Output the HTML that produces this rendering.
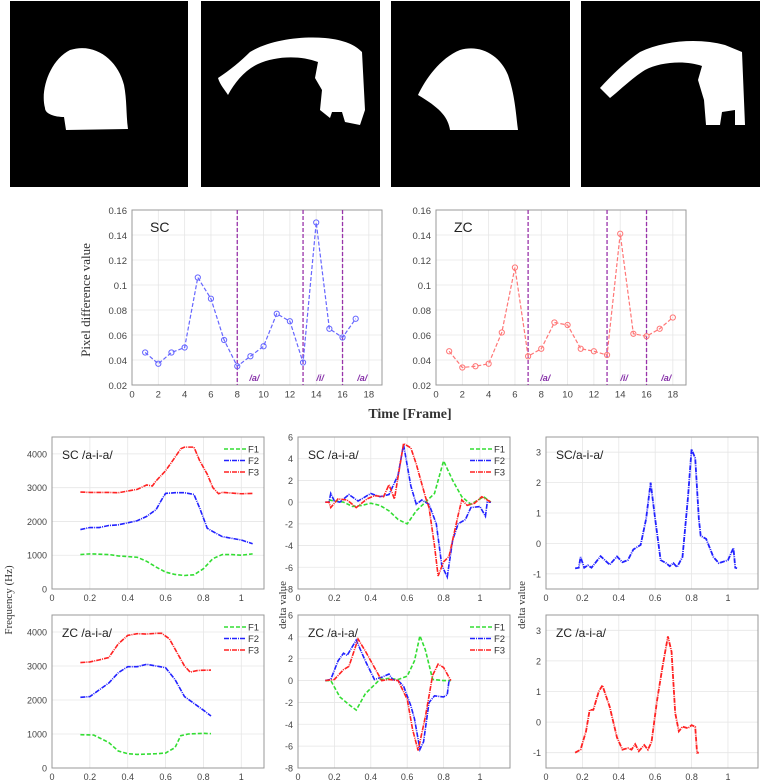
<!DOCTYPE html>
<html><head><meta charset="utf-8"><style>
body{margin:0;background:#fff;width:768px;height:783px;overflow:hidden;font-family:"Liberation Sans",sans-serif}
svg{position:absolute;left:0;top:0}
</style></head><body>
<svg id="s" width="768" height="783" xmlns="http://www.w3.org/2000/svg">
<g>
<rect x="10" y="1" width="178" height="186" fill="#000"/>
<path d="M45,108 C40,90 50,60 70,50 C95,42 118,60 124,85 C127,100 126,115 128,129 L66,130 L64,117 C55,117 45,114 45,108Z" fill="#fff"/>
<rect x="201" y="1" width="179" height="186" fill="#000"/>
<path d="M218,78 C230,70 240,62 250,52 C270,40 300,36 325,38 C345,40 355,45 362,52 L365,110 L360,125 L345,122 L342,112 L332,112 L330,118 L320,110 L322,90 L315,78 L318,62 C300,55 275,56 258,64 C245,70 235,82 228,95 C225,90 220,85 218,78Z" fill="#fff"/>
<rect x="391" y="1" width="179" height="186" fill="#000"/>
<path d="M418,95 C425,80 440,58 460,50 C480,44 500,55 508,75 C515,95 516,115 518,130 L450,130 C448,117 440,108 418,95Z" fill="#fff"/>
<rect x="581" y="1" width="179" height="186" fill="#000"/>
<path d="M600,88 C612,75 625,62 640,52 C665,40 700,38 725,45 L742,52 L745,125 L735,125 L735,110 L722,112 L720,125 L706,125 L704,100 L698,80 L702,66 C685,60 660,62 645,70 C632,78 620,90 610,98Z" fill="#fff"/>
</g>
<text x="410" y="418" font-family="Liberation Serif" font-size="14" font-weight="bold" text-anchor="middle" fill="#333">Time [Frame]</text>
<text transform="translate(90,300) rotate(-90)" font-family="Liberation Serif" font-size="13" text-anchor="middle" fill="#333">Pixel difference value</text>
<text transform="translate(12,600) rotate(-90)" font-family="Liberation Serif" font-size="11" text-anchor="middle" fill="#333">Frequency (Hz)</text>
<text transform="translate(286,605) rotate(-90)" font-family="Liberation Serif" font-size="11" text-anchor="middle" fill="#333">delta value</text>
<text transform="translate(525,605) rotate(-90)" font-family="Liberation Serif" font-size="11" text-anchor="middle" fill="#333">delta value</text>
</svg>
<script>
const frames=[1,2,3,4,5,6,7,8,9,10,11,12,13,14,15,16,17];
const scPix=[0.046,0.037,0.046,0.050,0.106,0.089,0.056,0.035,0.043,0.051,0.077,0.071,0.038,0.150,0.065,0.058,0.073];
const framesZ=[1,2,3,4,5,6,7,8,9,10,11,12,13,14,15,16,17,18];
const zcPix=[0.047,0.034,0.035,0.037,0.062,0.114,0.043,0.049,0.070,0.068,0.049,0.047,0.044,0.141,0.061,0.059,0.065,0.074];
const scBounds=[8,13,16]; const zcBounds=[7,13,16];
const pixXTicks=[0,2,4,6,8,10,12,14,16,18];
const pixYTicks=[0.02,0.04,0.06,0.08,0.1,0.12,0.14,0.16];

const scT=[0.15,0.2,0.25,0.3,0.35,0.4,0.45,0.5,0.53,0.55,0.6,0.65,0.68,0.7,0.75,0.78,0.82,0.85,0.88,0.9,0.95,1.0,1.06];
const scF3=[2870,2860,2860,2860,2850,2900,2950,3080,3050,3200,3500,3900,4150,4200,4200,3800,3400,3000,2820,2860,2840,2820,2830];
const scT2=[0.15,0.2,0.25,0.3,0.35,0.4,0.45,0.5,0.55,0.58,0.6,0.65,0.7,0.75,0.78,0.82,0.85,0.9,0.95,1.0,1.06];
const scF2=[1760,1820,1820,1880,1900,1960,2020,2150,2350,2650,2830,2850,2850,2800,2400,1800,1700,1550,1500,1450,1340];
const scT1=[0.15,0.2,0.3,0.35,0.4,0.45,0.5,0.55,0.6,0.65,0.7,0.75,0.8,0.85,0.9,0.95,1.0,1.06];
const scF1=[1020,1040,1020,980,960,940,820,650,500,430,400,420,600,900,1020,1020,1000,1040];
const zcT3=[0.15,0.2,0.25,0.3,0.35,0.4,0.45,0.5,0.55,0.58,0.62,0.65,0.7,0.73,0.77,0.84];
const zcF3=[3100,3120,3180,3250,3650,3900,3950,3940,3960,3960,3800,3500,3000,2820,2870,2880];
const zcT2=[0.15,0.2,0.25,0.3,0.35,0.4,0.45,0.5,0.55,0.6,0.65,0.7,0.75,0.8,0.84];
const zcF2=[2080,2100,2300,2500,2800,2980,2980,3050,3000,2950,2600,2100,1900,1700,1530];
const zcT1=[0.15,0.22,0.3,0.35,0.4,0.45,0.5,0.55,0.6,0.65,0.68,0.72,0.8,0.84];
const zcF1=[980,970,750,500,420,400,410,420,440,600,950,1000,1020,1010];

const sdT1=[0.17,0.2,0.25,0.3,0.35,0.4,0.45,0.5,0.55,0.6,0.65,0.7,0.75,0.8,0.85,0.9,0.95,1.0,1.02,1.06];
const sdF1=[0.2,0.1,0,-0.4,-0.3,-0.1,-0.3,-0.8,-1.6,-2,-0.8,0,0.8,3.8,2.0,0.5,-0.2,0.3,0.5,0];
const sdT2=[0.15,0.17,0.18,0.2,0.23,0.28,0.33,0.4,0.45,0.5,0.55,0.58,0.62,0.65,0.68,0.72,0.76,0.79,0.82,0.85,0.88,0.92,0.95,1.0,1.03,1.04,1.06];
const sdF2=[0,0,0.8,0.1,0,0.7,0.1,0.8,0.5,0.7,2.5,5.3,1.5,-0.2,0.2,-0.2,-2,-5.8,-6.9,-3.5,-2.0,-1.6,-0.5,-0.4,-1.3,0,0];
const sdT3=[0.15,0.17,0.18,0.22,0.27,0.32,0.38,0.42,0.47,0.5,0.53,0.58,0.62,0.65,0.7,0.72,0.75,0.77,0.8,0.83,0.88,0.9,0.93,0.97,1.01,1.06];
const sdF3=[0,0,-0.5,0.3,0.2,-0.5,0.3,0.6,0.5,1.6,0.3,5.4,5.0,3.5,0.5,-0.5,-4,-6.8,-5.5,-5,-1.2,0.2,-0.3,-0.1,0.5,0];
const zdT1=[0.15,0.18,0.23,0.28,0.32,0.37,0.45,0.5,0.55,0.6,0.64,0.67,0.7,0.74,0.8,0.84];
const zdF1=[0,0,-1.5,-2.2,-2.7,-1.2,0.1,0.2,0.1,0.4,1.8,4.1,2.8,0.1,0,0];
const zdT2=[0.15,0.18,0.22,0.25,0.27,0.32,0.37,0.42,0.46,0.5,0.52,0.55,0.58,0.62,0.64,0.67,0.69,0.72,0.75,0.8,0.82,0.83,0.84];
const zdF2=[0,0.1,1.8,2.5,2.3,3.7,1.8,0.1,0.3,0.6,0.1,0,-0.5,-2.3,-3.5,-6.3,-5.6,-2,-1.4,-1.5,-1.3,0,0];
const zdT3=[0.15,0.2,0.25,0.28,0.33,0.37,0.42,0.46,0.5,0.55,0.6,0.63,0.66,0.7,0.74,0.77,0.8,0.84];
const zdF3=[0,0.1,1,1.3,3.8,2.7,1.2,0,0.1,0,-1.7,-4.5,-6.4,-3.3,0.5,1.5,1.2,0];

const scRT=[0.16,0.18,0.19,0.21,0.23,0.25,0.3,0.35,0.39,0.42,0.45,0.48,0.52,0.55,0.575,0.6,0.63,0.66,0.68,0.7,0.72,0.75,0.78,0.8,0.82,0.84,0.85,0.88,0.92,0.95,1.0,1.03,1.04,1.05];
const scRV=[-0.82,-0.8,-0.45,-0.8,-0.72,-0.8,-0.42,-0.7,-0.43,-0.62,-0.55,-0.2,-0.05,0.8,2.0,0.8,-0.55,-0.65,-0.75,-0.65,-0.78,-0.45,1.5,3.1,2.8,0.8,0.25,0.15,-0.45,-0.65,-0.55,-0.15,-0.8,-0.82];
const zcRT=[0.16,0.19,0.22,0.24,0.26,0.29,0.31,0.35,0.39,0.42,0.45,0.47,0.49,0.51,0.54,0.56,0.58,0.61,0.64,0.67,0.69,0.71,0.73,0.75,0.78,0.8,0.82,0.83,0.84];
const zcRV=[-1.0,-0.9,-0.3,0.4,0.4,1.0,1.2,0.5,-0.5,-0.9,-0.85,-0.9,-0.72,-0.95,-0.75,-0.9,-0.65,0.7,1.8,2.8,2.3,0.3,-0.3,-0.15,-0.2,-0.1,-0.15,-1.0,-1.0];

const sTicks=[0,0.2,0.4,0.6,0.8,1];
const freqY=[0,1000,2000,3000,4000];
const deltaY=[-8,-6,-4,-2,0,2,4,6];
const rY=[-1,0,1,2,3];

const NS='http://www.w3.org/2000/svg';
const svg=document.getElementById('s');
function el(t,a,p){const e=document.createElementNS(NS,t);for(const k in a)e.setAttribute(k,a[k]);(p||svg).appendChild(e);return e;}

function makeAxes(c){
  const g=el('g',{});
  
  
  const sx=v=>c.x0+(v-c.xmin)/(c.xmax-c.xmin)*(c.x1-c.x0);
  const sy=v=>c.y1-(v-c.ymin)/(c.ymax-c.ymin)*(c.y1-c.y0);
  el('rect',{x:c.x0,y:c.y0,width:c.x1-c.x0,height:c.y1-c.y0,fill:'#fff'},g);
  c.xt.forEach(t=>{el('line',{x1:sx(t),x2:sx(t),y1:c.y0,y2:c.y1,stroke:'#e6e6e6','stroke-width':0.8},g);
    const tx=el('text',{x:sx(t),y:c.y1+c.fs+3,'font-size':c.fs,'text-anchor':'middle',fill:'#444'},g);tx.textContent=t;
    
    });
  c.yt.forEach(t=>{el('line',{x1:c.x0,x2:c.x1,y1:sy(t),y2:sy(t),stroke:'#e6e6e6','stroke-width':0.8},g);
    const tx=el('text',{x:c.x0-5,y:sy(t)+c.fs/2-1,'font-size':c.fs,'text-anchor':'end',fill:'#444'},g);tx.textContent=t;
    
    });
  el('rect',{x:c.x0,y:c.y0,width:c.x1-c.x0,height:c.y1-c.y0,fill:'none',stroke:'#999','stroke-width':1},g);
  return {g,sx,sy};
}
function series(ax,xs,ys,color,dash,name,w){
  const p=el('polyline',{points:xs.map((x,i)=>ax.sx(x)+','+ax.sy(ys[i])).join(' '),fill:'none',stroke:color,'stroke-width':w||1.6,'stroke-dasharray':dash},ax.g);
  
  
  return p;
}
function label(ax,x,y,txt,fs,name){const t=el('text',{x,y,'font-size':fs,fill:'#222'},ax.g);t.textContent=txt;
  
  }
function legend(ax,x,y){
  [['F1','#33dd33','4,2'],['F2','#2222ff','5,1,1,1'],['F3','#ff2222','5,1,1,1']].forEach((l,i)=>{
    const lg=el('g',{},ax.g);
    
    
    el('line',{x1:x,x2:x+22,y1:y+i*11.5,y2:y+i*11.5,stroke:l[1],'stroke-width':1.6,'stroke-dasharray':l[2]},lg);
    const t=el('text',{x:x+24,y:y+i*11.5+3.5,'font-size':9.5,fill:'#333'},lg);t.textContent=l[0];
  });
}

// pixel charts
[[132,382,'SC',frames,scPix,scBounds,'#6666ff','pixel-chart-sc'],[436,686,'ZC',framesZ,zcPix,zcBounds,'#ff7777','pixel-chart-zc']].forEach(d=>{
  const ax=makeAxes({name:d[7],x0:d[0],x1:d[1],y0:210,y1:385,xmin:0,xmax:19,ymin:0.02,ymax:0.16,xt:pixXTicks,yt:pixYTicks,fs:9.5});
  d[5].forEach(b=>{const l=el('line',{x1:ax.sx(b),x2:ax.sx(b),y1:210,y2:385,stroke:'#9933aa','stroke-width':1.3,'stroke-dasharray':'4,2'},ax.g);
    
    });
  series(ax,d[3],d[4],d[6],'4,2',d[2].toLowerCase()+'-pixel-line',1.2);
  d[3].forEach((f,i)=>{const c=el('circle',{cx:ax.sx(f),cy:ax.sy(d[4][i]),r:2.6,fill:'none',stroke:d[6],'stroke-width':1},ax.g);
    
    });
  const labs=['/a/','/i/','/a/'];
  const lx=[(d[5][0]+1.3),(d[5][1]+1.3),(d[5][2]+1.5)];
  lx.forEach((x,i)=>{const t=el('text',{x:ax.sx(x),y:381,'font-size':9,'font-weight':'bold','font-style':'italic',fill:'#8833aa','text-anchor':'middle'},ax.g);t.textContent=labs[i];
    
    });
  label(ax,d[0]+18,232,d[2],14,'panel-title');
});

// formant charts
const fcfg=[
 ['formant-chart-sc',437,589,'SC /a-i-a/',[scT1,scF1],[scT2,scF2],[scT,scF3]],
 ['formant-chart-zc',615,768,'ZC /a-i-a/',[zcT1,zcF1],[zcT2,zcF2],[zcT3,zcF3]]];
fcfg.forEach(d=>{
  const ax=makeAxes({name:d[0],x0:52,x1:264,y0:d[1],y1:d[2],xmin:0,xmax:1.12,ymin:0,ymax:4500,xt:sTicks,yt:freqY,fs:9});
  series(ax,d[4][0],d[4][1],'#33dd33','4,2','f1-line');
  series(ax,d[5][0],d[5][1],'#2222ff','5,1,1,1','f2-line');
  series(ax,d[6][0],d[6][1],'#ff2222','5,1,1,1','f3-line');
  label(ax,62,d[1]+22,d[3],12,'panel-title');
  legend(ax,224,d[1]+12);
});
const dcfg=[
 ['delta-chart-sc',437,589,'SC /a-i-a/',[sdT1,sdF1],[sdT2,sdF2],[sdT3,sdF3]],
 ['delta-chart-zc',615,768,'ZC /a-i-a/',[zdT1,zdF1],[zdT2,zdF2],[zdT3,zdF3]]];
dcfg.forEach(d=>{
  const ax=makeAxes({name:d[0],x0:298,x1:510,y0:d[1],y1:d[2],xmin:0,xmax:1.165,ymin:-8,ymax:6,xt:sTicks,yt:deltaY,fs:9});
  series(ax,d[4][0],d[4][1],'#33dd33','4,2','f1-delta-line');
  series(ax,d[5][0],d[5][1],'#2222ff','5,1,1,1','f2-delta-line');
  series(ax,d[6][0],d[6][1],'#ff2222','5,1,1,1','f3-delta-line');
  label(ax,308,d[1]+22,d[3],12,'panel-title');
  legend(ax,470,d[1]+12);
});
const rcfg=[['summary-delta-sc',437,589,'SC/a-i-a/',scRT,scRV,'#2222ff'],['summary-delta-zc',615,768,'ZC /a-i-a/',zcRT,zcRV,'#ff2222']];
rcfg.forEach(d=>{
  const ax=makeAxes({name:d[0],x0:546,x1:758,y0:d[1],y1:d[2],xmin:0,xmax:1.165,ymin:-1.5,ymax:3.5,xt:sTicks,yt:rY,fs:9});
  series(ax,d[4],d[5],d[6],'5,1,1,1','delta-line',1.8);
  label(ax,556,d[1]+22,d[3],12,'panel-title');
});
</script>
</body></html>
